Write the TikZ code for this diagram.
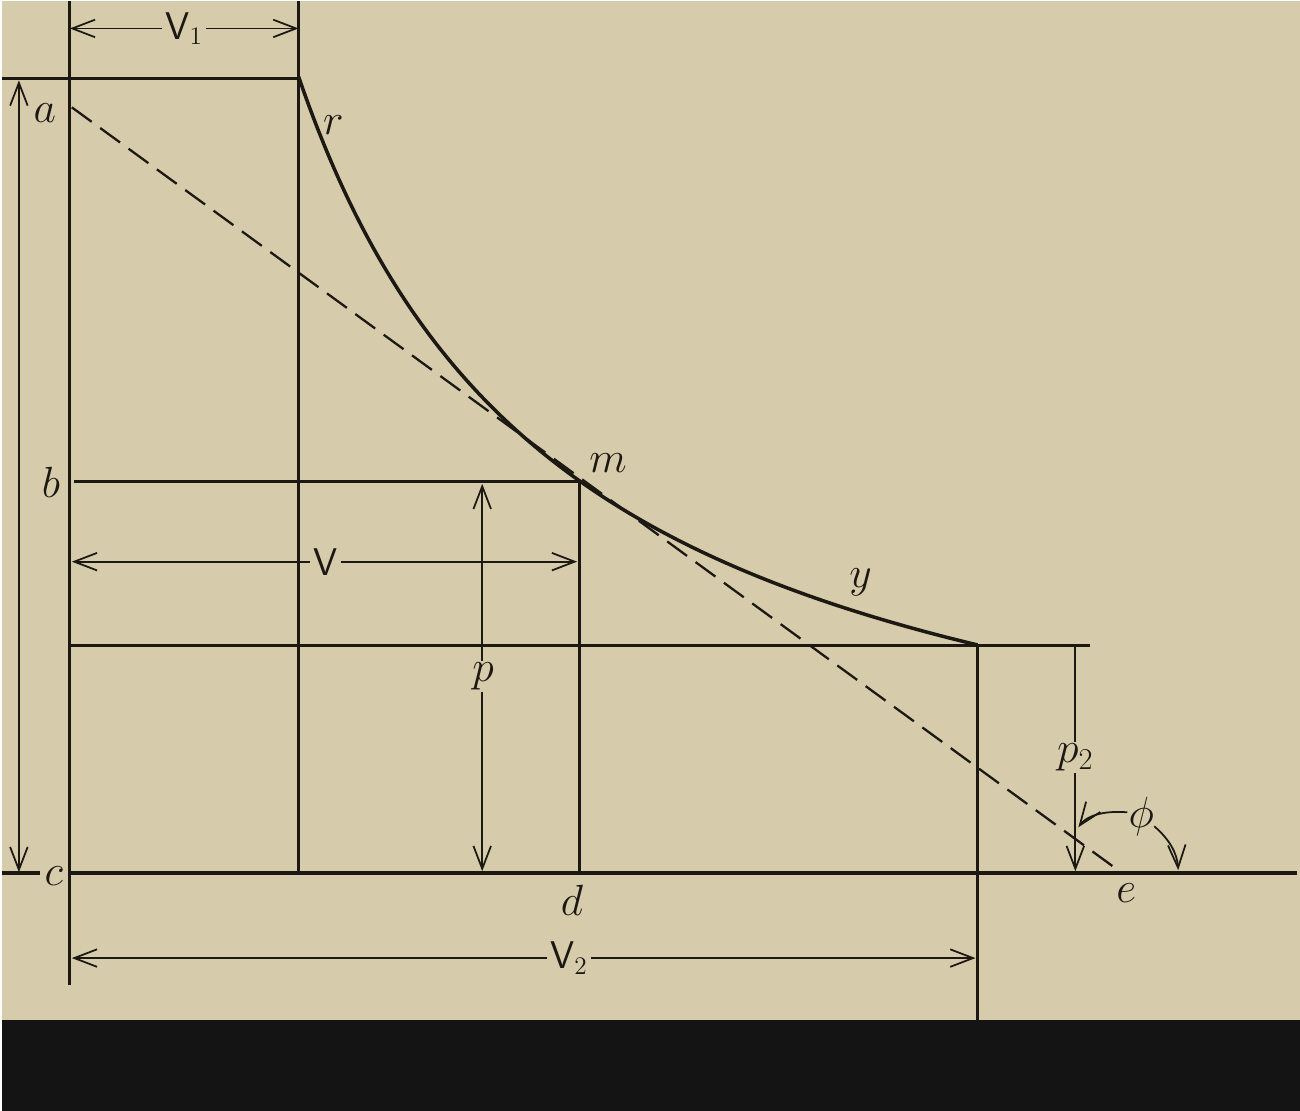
\documentclass[tikz,border=0pt]{standalone}
\usepackage{amsmath}
\usetikzlibrary{calc}
\usetikzlibrary{arrows.meta}
\definecolor{paper}{RGB}{214,203,170}
\definecolor{ink}{RGB}{28,24,18}

\begin{document}
\begin{tikzpicture}[x=0.02cm,y=-0.02cm,
    line/.style={ink,line width=1.7pt},
    base/.style={ink,line width=2.2pt},
    dim/.style={ink,line width=1pt},
    tip/.style={-{Straight Barb[length=13pt,width=10pt,line width=1pt]}},
    tips/.style={{Straight Barb[length=13pt,width=10pt,line width=1pt]}-{Straight Barb[length=13pt,width=10pt,line width=1pt]}},
    lbl/.style={ink,font=\fontsize{24}{28}\selectfont},
    slbl/.style={ink,fill=paper,inner sep=2pt,font=\fontsize{22}{26}\sffamily}]
            \fill[paper] (0,0) rectangle (1300,1111);
            \fill[black!92] (0,1020) rectangle (1300,1111);

            \coordinate (c) at (68,873);
            \coordinate (r) at (297,77);
            \coordinate (b) at (72,481);
            \coordinate (m) at (578,481);
            \coordinate (d) at (578,873);
            \coordinate (y) at (977,645);
            \coordinate (a) at (70,106);
            \coordinate (e) at (1122,873);

            % frame
            \draw[line] (68,0) -- (68,985);
            \draw[line] (297,0) -- (297,873);
            \draw[line] (0,77) -- (r);
            \draw[line] (b) -- (m) -- (d);
            \draw[line] (68,645) -- (1090,645);
            \draw[line] (977,645) -- (977,1020);
            \draw[base] (0,873) -- (38,873);
            \draw[base] (c) -- (1297,873);

            % expansion curve (hyperbola) and its tangent at m
            \draw[ink,line width=2pt] plot[domain=297:977,samples=120,smooth] (\x,{873-2178.54/((\x-24)/100)});
            \draw[ink,line width=1.3pt,dash pattern=on 14pt off 6pt] (a) -- (e);

            % dimensions
            \draw[dim,tips] (68,27) -- node[slbl]{V$_1$} (297,27);
            \draw[dim,tips] (17,79) -- (17,872);
            \draw[dim,tips] (70,561) -- (576,561);
            \node[slbl] (vv) at (324,561) {V};
            \draw[dim,tips] (481,483) -- (481,871);
            \node[lbl,fill=paper,inner sep=1pt] (pp) at (482,676) {$p$};
            \draw[dim,tips] (70,958) -- node[slbl,pos=0.55]{V$_2$} (975,958);
            \draw[dim,tip] (1075,645) -- (1075,871);
            \node[lbl,fill=paper,inner sep=1pt] (p2) at (1075,757) {$p_2$};

            % angle
            \node[lbl] (phi) at (1141,816) {$\phi$};
            \draw[dim,tip] (1127,812) .. controls (1102,810) and (1086,816) .. (1078,827);
            \draw[dim,tip] (1154,826) .. controls (1168,838) and (1177,852) .. (1178,870);

            % letters
            \node[lbl] (la) at (43,112) {$a$};
            \node[lbl] (lb) at (49,482) {$b$};
            \node[lbl] (lc) at (52,876) {$c$};
            \node[lbl] (ld) at (571,900) {$d$};
            \node[lbl] (le) at (1126,893) {$e$};
            \node[lbl] (lm) at (607,462) {$m$};
            \node[lbl] (lr) at (332,124) {$r$};
            \node[lbl] (ly) at (860,582) {$y$};

        \end{tikzpicture}
\end{document}
